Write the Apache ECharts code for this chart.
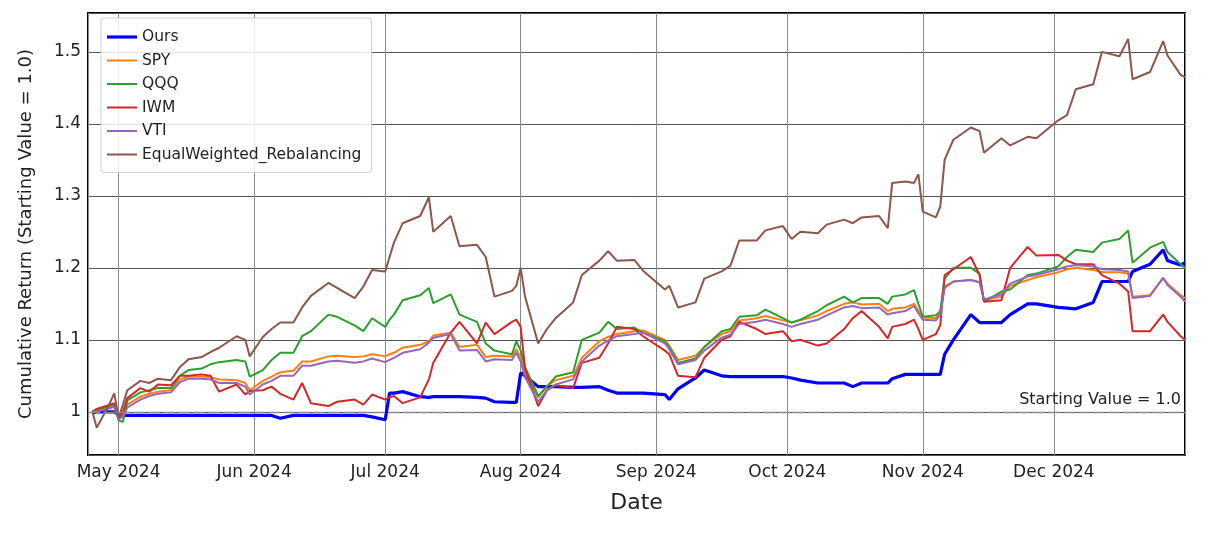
<!DOCTYPE html>
<html>
<head>
<meta charset="utf-8">
<script src="https://cdn.jsdelivr.net/npm/echarts@6/dist/echarts.min.js"></script>
<style>
html,body{margin:0;padding:0;background:#fff;}
#chart{width:1209px;height:537px;}
</style>
</head>
<body>
<div id="chart"></div>
<script>
const dates = [
  '2024-04-25','2024-04-26','2024-04-29','2024-04-30',
  '2024-05-01','2024-05-02','2024-05-03','2024-05-06','2024-05-08','2024-05-10','2024-05-13','2024-05-15','2024-05-17','2024-05-20','2024-05-22','2024-05-24','2024-05-28','2024-05-30','2024-05-31',
  '2024-06-03','2024-06-05','2024-06-07','2024-06-10','2024-06-12','2024-06-14','2024-06-18','2024-06-20','2024-06-24','2024-06-26','2024-06-28',
  '2024-07-01','2024-07-02','2024-07-03','2024-07-05','2024-07-09','2024-07-11','2024-07-12','2024-07-16','2024-07-18','2024-07-22','2024-07-24','2024-07-26','2024-07-30','2024-07-31',
  '2024-08-01','2024-08-02','2024-08-05','2024-08-07','2024-08-09','2024-08-13','2024-08-15','2024-08-19','2024-08-21','2024-08-23','2024-08-27','2024-08-29',
  '2024-09-03','2024-09-04','2024-09-06','2024-09-10','2024-09-12','2024-09-16','2024-09-18','2024-09-20','2024-09-24','2024-09-26','2024-09-30',
  '2024-10-02','2024-10-04','2024-10-08','2024-10-10','2024-10-14','2024-10-16','2024-10-18','2024-10-22','2024-10-24','2024-10-25','2024-10-28','2024-10-30','2024-10-31',
  '2024-11-01','2024-11-04','2024-11-05','2024-11-06','2024-11-08','2024-11-12','2024-11-14','2024-11-15','2024-11-19','2024-11-21','2024-11-25','2024-11-27',
  '2024-12-02','2024-12-04','2024-12-06','2024-12-10','2024-12-12','2024-12-16','2024-12-18','2024-12-19','2024-12-23','2024-12-26','2024-12-27','2024-12-30','2024-12-31'
];

const ours = [
  0.998, 1.000, 1.000, 1.000,
  0.996, 0.995, 0.995, 0.995, 0.995, 0.995, 0.995, 0.995, 0.995, 0.995, 0.995, 0.995, 0.995, 0.995, 0.995,
  0.995, 0.995, 0.991, 0.995, 0.995, 0.995, 0.995, 0.995, 0.995, 0.995, 0.993,
  0.989, 1.026, 1.026, 1.028, 1.021, 1.020, 1.021, 1.021, 1.021, 1.020, 1.019, 1.014, 1.013, 1.013,
  1.054, 1.050, 1.035, 1.035, 1.035, 1.034, 1.034, 1.035, 1.030, 1.026, 1.026, 1.026,
  1.024, 1.017, 1.032, 1.047, 1.058, 1.050, 1.049, 1.049, 1.049, 1.049, 1.049,
  1.047, 1.044, 1.040, 1.040, 1.040, 1.035, 1.040, 1.040, 1.040, 1.046, 1.052, 1.052, 1.052,
  1.052, 1.052, 1.052, 1.080, 1.100, 1.135, 1.124, 1.124, 1.124, 1.135, 1.150, 1.150,
  1.145, 1.144, 1.143, 1.152, 1.181, 1.181, 1.181, 1.195, 1.205, 1.225, 1.210, 1.204, 1.207
];

const spy = [
  1.000, 1.002, 1.006, 1.008,
  0.991, 0.995, 1.010, 1.021, 1.025, 1.028, 1.030, 1.045, 1.049, 1.049, 1.048, 1.045, 1.044, 1.040, 1.030,
  1.043, 1.049, 1.055, 1.057, 1.070, 1.070, 1.077, 1.078, 1.076, 1.077, 1.080,
  1.077, 1.080, 1.082, 1.089, 1.093, 1.098, 1.106, 1.110, 1.090, 1.093, 1.076, 1.078, 1.077, 1.087,
  1.075, 1.055, 1.020, 1.036, 1.044, 1.050, 1.075, 1.098, 1.104, 1.108, 1.112, 1.113,
  1.100, 1.092, 1.072, 1.078, 1.090, 1.108, 1.112, 1.127, 1.130, 1.133, 1.127,
  1.124, 1.127, 1.134, 1.140, 1.150, 1.152, 1.149, 1.150, 1.140, 1.143, 1.145, 1.150, 1.140,
  1.131, 1.130, 1.138, 1.174, 1.181, 1.183, 1.180, 1.155, 1.160, 1.175, 1.183, 1.187,
  1.194, 1.198, 1.200, 1.197, 1.194, 1.194, 1.192, 1.160, 1.162, 1.186, 1.178, 1.162, 1.158
];

const qqq = [
  1.000, 1.003, 1.008, 1.010,
  0.988, 0.986, 1.016, 1.027, 1.030, 1.033, 1.033, 1.050, 1.058, 1.060, 1.066, 1.069, 1.072, 1.070, 1.049,
  1.058, 1.072, 1.082, 1.082, 1.105, 1.112, 1.135, 1.132, 1.120, 1.112, 1.130,
  1.118, 1.128, 1.135, 1.155, 1.162, 1.172, 1.151, 1.163, 1.135, 1.125, 1.095, 1.085, 1.080, 1.098,
  1.085, 1.062, 1.022, 1.035, 1.049, 1.055, 1.100, 1.110, 1.125, 1.115, 1.117, 1.110,
  1.098, 1.090, 1.068, 1.074, 1.090, 1.112, 1.115, 1.132, 1.134, 1.142, 1.130,
  1.124, 1.128, 1.140, 1.148, 1.160, 1.152, 1.158, 1.158, 1.150, 1.160, 1.163, 1.169, 1.150,
  1.132, 1.134, 1.140, 1.185, 1.200, 1.200, 1.192, 1.153, 1.167, 1.170, 1.190, 1.192,
  1.202, 1.215, 1.225, 1.222, 1.235, 1.240, 1.252, 1.207, 1.228, 1.236, 1.222, 1.205, 1.200
];

const iwm = [
  1.000, 1.004, 1.010, 1.012,
  0.990, 1.000, 1.019, 1.033, 1.028, 1.038, 1.037, 1.050, 1.050, 1.052, 1.050, 1.028, 1.038, 1.024, 1.029,
  1.030, 1.035, 1.025, 1.017, 1.040, 1.012, 1.008, 1.014, 1.017, 1.010, 1.024,
  1.017, 1.020, 1.022, 1.012, 1.020, 1.045, 1.068, 1.110, 1.125, 1.095, 1.124, 1.108, 1.125, 1.128,
  1.118, 1.060, 1.008, 1.030, 1.037, 1.033, 1.068, 1.075, 1.095, 1.118, 1.115, 1.105,
  1.085, 1.080, 1.050, 1.048, 1.075, 1.100, 1.105, 1.125, 1.115, 1.108, 1.112,
  1.098, 1.100, 1.092, 1.095, 1.115, 1.130, 1.140, 1.118, 1.102, 1.118, 1.122, 1.128, 1.115,
  1.100, 1.108, 1.120, 1.190, 1.198, 1.215, 1.190, 1.153, 1.155, 1.200, 1.229, 1.217,
  1.218, 1.210, 1.205, 1.205, 1.190, 1.178, 1.167, 1.112, 1.112, 1.135, 1.125, 1.105, 1.100
];

const vti = [
  1.000, 1.000, 1.005, 1.007,
  0.990, 0.993, 1.006, 1.017, 1.022, 1.025, 1.027, 1.041, 1.046, 1.046, 1.045, 1.040, 1.040, 1.035, 1.024,
  1.038, 1.043, 1.050, 1.050, 1.064, 1.064, 1.070, 1.071, 1.068, 1.070, 1.074,
  1.069, 1.072, 1.075, 1.082, 1.087, 1.096, 1.103, 1.108, 1.085, 1.086, 1.070, 1.073, 1.072, 1.082,
  1.070, 1.048, 1.014, 1.030, 1.038, 1.045, 1.070, 1.092, 1.099, 1.105, 1.108, 1.110,
  1.095, 1.087, 1.066, 1.072, 1.085, 1.103, 1.107, 1.122, 1.125, 1.128, 1.122,
  1.118, 1.122, 1.128, 1.134, 1.145, 1.147, 1.144, 1.145, 1.135, 1.137, 1.140, 1.147, 1.137,
  1.128, 1.127, 1.135, 1.172, 1.181, 1.183, 1.180, 1.156, 1.163, 1.178, 1.188, 1.190,
  1.198, 1.202, 1.204, 1.202, 1.198, 1.197, 1.195, 1.158, 1.161, 1.186, 1.176, 1.160, 1.153
];

const equalWeighted = [
  1.000, 0.978, 1.012, 1.026,
  0.992, 1.010, 1.030, 1.043, 1.040, 1.046, 1.044, 1.062, 1.073, 1.076, 1.083, 1.089, 1.105, 1.100, 1.077,
  1.104, 1.115, 1.124, 1.124, 1.145, 1.161, 1.179, 1.172, 1.158, 1.174, 1.197,
  1.195, 1.215, 1.235, 1.262, 1.272, 1.298, 1.250, 1.272, 1.230, 1.232, 1.215, 1.160, 1.168, 1.175,
  1.200, 1.160, 1.095, 1.115, 1.130, 1.152, 1.190, 1.210, 1.223, 1.210, 1.211, 1.196,
  1.170, 1.175, 1.145, 1.152, 1.185, 1.195, 1.203, 1.238, 1.238, 1.252, 1.258,
  1.240, 1.250, 1.248, 1.260, 1.267, 1.262, 1.270, 1.272, 1.255, 1.318, 1.320, 1.318, 1.330,
  1.278, 1.270, 1.285, 1.350, 1.378, 1.395, 1.390, 1.360, 1.380, 1.370, 1.382, 1.380,
  1.405, 1.412, 1.448, 1.455, 1.500, 1.494, 1.518, 1.462, 1.472, 1.515, 1.495, 1.468, 1.465
];

const seriesNames = ['Ours', 'SPY', 'QQQ', 'IWM', 'VTI', 'EqualWeighted_Rebalancing'];
const seriesValues = [ours, spy, qqq, iwm, vti, equalWeighted];
const seriesColors = ['#0000ff', '#ff7f0e', '#2ca02c', '#d62728', '#9467bd', '#8c564b'];
const seriesWidths = [3.2, 2, 2, 2, 2, 2];
const monthNames = ['Jan','Feb','Mar','Apr','May','Jun','Jul','Aug','Sep','Oct','Nov','Dec'];
const FONT = "'DejaVu Sans', Verdana, sans-serif";

const chart = echarts.init(document.getElementById('chart'), null, {renderer: 'canvas'});

const series = seriesNames.map((name, k) => {
  const s = {
    name: name,
    type: 'line',
    symbol: 'none',
    showSymbol: false,
    animation: false,
    color: seriesColors[k],
    lineStyle: {color: seriesColors[k], width: seriesWidths[k]},
    data: dates.map((d, i) => [d, seriesValues[k][i]])
  };
  if (k === seriesNames.length - 1) {
    s.markLine = {
      silent: true,
      symbol: ['none', 'none'],
      lineStyle: {color: '#8a8a8a', type: [12, 3], width: 1.4},
      label: {
        show: true,
        position: 'insideEndTop',
        formatter: 'Starting Value = 1.0',
        fontFamily: FONT,
        fontSize: 16,
        color: '#222',
        distance: [4, 4]
      },
      data: [{yAxis: 1.0}]
    };
  }
  return s;
});

const legendItems = seriesNames.map((name, k) => ({
  name: name,
  icon: k === 0 ? 'path://M0,0H30V3.2H0Z' : 'path://M0,0H30V2H0Z'
}));

chart.setOption({
  animation: false,
  backgroundColor: '#ffffff',
  grid: {
    left: 88, right: 24, top: 13, bottom: 82,
    show: true, borderColor: '#000', borderWidth: 2, backgroundColor: 'transparent'
  },
  legend: {
    data: legendItems,
    orient: 'vertical',
    left: 101, top: 18,
    padding: [11, 10, 10, 6],
    itemWidth: 30, itemHeight: 14, itemGap: 7.5,
    symbolKeepAspect: true,
    backgroundColor: 'rgba(255,255,255,0.85)',
    borderColor: '#d0d0d0', borderWidth: 1, borderRadius: 3,
    textStyle: {fontFamily: FONT, fontSize: 15.5, color: '#222', lineHeight: 16}
  },
  xAxis: {
    type: 'time',
    min: '2024-04-24',
    max: '2024-12-31',
    splitNumber: 9,
    minInterval: 28 * 86400000,
    maxInterval: 31 * 86400000,
    name: 'Date',
    nameLocation: 'middle',
    nameGap: 37,
    nameTextStyle: {fontFamily: FONT, fontSize: 22, color: '#222'},
    axisLine: {show: false},
    axisTick: {show: false},
    axisLabel: {
      fontFamily: FONT, fontSize: 17, color: '#222', margin: 9,
      formatter: function (v) { const d = new Date(v); return monthNames[d.getMonth()] + ' ' + d.getFullYear(); }
    },
    splitLine: {show: true, lineStyle: {color: '#8a8a8a', width: 1}}
  },
  yAxis: {
    type: 'value',
    min: 0.94,
    max: 1.554,
    splitNumber: 5,
    name: 'Cumulative Return (Starting Value = 1.0)',
    nameLocation: 'middle',
    nameGap: 53,
    nameTextStyle: {fontFamily: FONT, fontSize: 18, color: '#222'},
    axisLine: {show: false},
    axisTick: {show: false},
    axisLabel: {fontFamily: FONT, fontSize: 17, color: '#222', margin: 7, showMinLabel: false, showMaxLabel: false},
    splitLine: {show: true, lineStyle: {color: '#555', width: 1}}
  },
  series: series
});
</script>
</body>
</html>
